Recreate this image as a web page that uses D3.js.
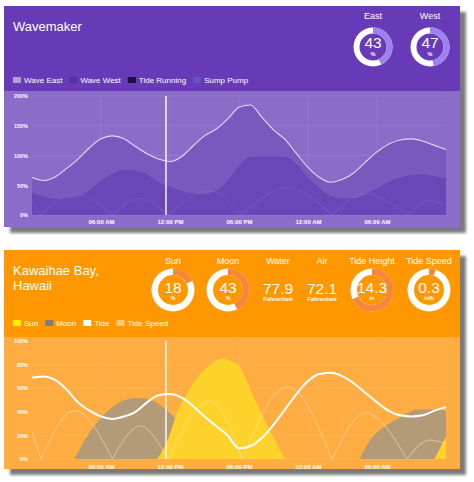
<!DOCTYPE html>
<html>
<head>
<meta charset="utf-8">
<script src="https://cdn.jsdelivr.net/npm/d3@7"></script>
<style>
  html, body { margin: 0; padding: 0; background: #fff; }
  svg { display: block; font-family: "Liberation Sans", Arial, sans-serif; }
</style>
</head>
<body>
<svg id="chart" width="474" height="482"></svg>
<script>
// --- DATA ---
const hours = [0,1,2,3,4,5,6,7,8,9,10,11,12,13,14,15,16,17,18,19,20,21,22,23,24,25,26,27,28,29,30,31,32,33,34,35,36];
const tickHours = [6, 12, 18, 24, 30];
const tickLabels = ["06:00 AM", "12:00 PM", "06:00 PM", "12:00 AM", "06:00 AM"];
const nowHour = 11.65;

// Wavemaker
const waveLegend = ["Wave East", "Wave West", "Tide Running", "Sump Pump"];
const waveEast = [63,58,64,78,94,113,128,133,128,115,103,94,90,98,116,133,144,161,181,185,164,143,127,103,80,63,55,60,71,89,106,119,126,128,124,117,110];
const waveWest = [38,31,27,28,31,42,58,69,76,74,68,55,48,40,36,35,41,57,82,98,98,98,98,86,63,45,32,28,28,35,45,56,63,67,68,65,62];
const sumpHours = [0, 0.8, 3.7, 7.0, 9.4, 11.8, 15.5, 18.3, 22.2, 26.1, 29.0, 32.6, 34.6, 36];
const sumpPump = [20, 0, 36, 0, 28, 0, 40, 0, 46, 0, 36, 0, 24, 18];
const waveTicks = [0, 50, 100, 150, 200];
const waveGaugeLabels = ["East", "West"];
const waveGaugeValues = [43, 47];

// Kawaihae Bay
const bayLegend = ["Sun", "Moon", "Tide", "Tide Speed"];
const tide = [69,70,67,59,48,41,36,34,36,40,48,54,55,52,45,36,28,20,9,11,18,29,42,55,66,72,73,70,64,56,48,41,37,36,37,41,44];
const sunHours = [10.9, 11.8, 12.6, 13.5, 14.4, 15.5, 16.4, 17.8, 19.4, 21.1, 22.0, 35.0, 36];
const sun = [0, 16, 39, 56, 69, 80, 85, 81, 50, 16, 0, 0, 19];
const moonHours = [3.7, 4.6, 5.5, 6.4, 7.3, 8.1, 9.4, 10.3, 11.1, 12.0, 13.5, 15.5, 28.5, 29.4, 30.3, 31.1, 32.3, 33.5, 34.4, 35.5, 36];
const moon = [0, 16, 29, 39, 46, 50, 52, 50, 46, 39, 22, 0, 0, 16, 25, 30, 37, 42, 42, 42, 40];
const tideSpeedHours = [0, 0.8, 3.7, 7.0, 9.4, 11.8, 15.5, 18.3, 22.2, 26.1, 29.0, 32.6, 34.6, 36];
const tideSpeed = [23, 0, 41, 0, 28, 0, 49, 0, 61, 0, 39, 0, 16, 13];
const bayTicks = [0, 20, 40, 60, 80, 100];
const bayGaugeLabels = ["Sun", "Moon", "Tide Height", "Tide Speed"];
const bayGaugeValues = ["18", "43", "14.3", "0.3"];
const bayGaugeUnits = ["%", "%", "in", "in/h"];
const bayGaugeFractions = [0.18, 0.43, 0.68, 0.05];
const tempLabels = ["Water", "Air"];
const tempValues = ["77.9", "72.1"];

// --- SETUP ---
const svg = d3.select("#chart");
const defs = svg.append("defs");
defs.append("filter").attr("id", "blur")
  .attr("x", "-5%").attr("y", "-5%").attr("width", "110%").attr("height", "110%")
  .append("feGaussianBlur").attr("stdDeviation", 1.5);

const x = d3.scaleLinear().domain([0, 36]).range([32, 446]);

function pts(xs, ys) { return xs.map((h, i) => ({ h, v: ys[i] })); }

// cut a series into runs between zero values (so the dips stay sharp)
function runs(xs, ys) {
  const out = [];
  let cur = null;
  xs.forEach((h, i) => {
    const p = { h, v: ys[i] };
    if (cur) cur.push(p);
    if (ys[i] === 0) {
      if (cur && cur.length > 1) out.push(cur);
      cur = [p];
    } else if (!cur) cur = [p];
  });
  if (cur && cur.length > 1) out.push(cur);
  return out.filter(r => r.some(p => p.v > 0));
}

function card(y, h, plotY, header, plotBg) {
  svg.append("rect").attr("x", 10).attr("y", y + 6).attr("width", 456).attr("height", h)
    .attr("fill", "#7a7a7a").attr("filter", "url(#blur)");
  svg.append("rect").attr("x", 4).attr("y", y).attr("width", 456).attr("height", h).attr("fill", header);
  svg.append("rect").attr("x", 4).attr("y", plotY).attr("width", 456).attr("height", y + h - plotY).attr("fill", plotBg);
}

function axes(y, ticks, fmt, labelY) {
  const g = svg.append("g");
  g.selectAll(".hg").data(ticks).enter().append("line")
    .attr("x1", x(0)).attr("x2", x(36))
    .attr("y1", d => y(d)).attr("y2", d => y(d))
    .attr("stroke", "#fff").attr("stroke-opacity", 0.09);
  g.selectAll(".vg").data(tickHours).enter().append("line")
    .attr("x1", d => x(d)).attr("x2", d => x(d))
    .attr("y1", y.range()[1]).attr("y2", y.range()[0])
    .attr("stroke", "#fff").attr("stroke-opacity", 0.09);

  const ya = svg.append("g").attr("transform", `translate(${x(0)},0)`)
    .call(d3.axisLeft(y).tickValues(ticks).tickFormat(fmt).tickSize(0).tickPadding(4));
  ya.select(".domain").remove();
  ya.selectAll("text").attr("fill", "#fff").attr("font-size", 5.5).attr("font-weight", "bold")
    .attr("font-family", "Liberation Sans, Arial, sans-serif");

  const xa = svg.append("g").attr("transform", `translate(0,${y(0)})`)
    .call(d3.axisBottom(x).tickValues(tickHours).tickFormat((d, i) => tickLabels[i]).tickSize(0));
  xa.select(".domain").remove();
  xa.selectAll("text").attr("y", labelY).attr("dy", 0).attr("fill", "#fff")
    .attr("font-size", 6).attr("font-weight", "bold")
    .attr("font-family", "Liberation Sans, Arial, sans-serif");
}

function legend(items, colors, yb) {
  let cx = 13;
  items.forEach((name, i) => {
    svg.append("rect").attr("x", cx).attr("y", yb - 6).attr("width", 8).attr("height", 6).attr("fill", colors[i]);
    const t = svg.append("text").attr("x", cx + 11).attr("y", yb).attr("fill", "#fff")
      .attr("font-size", 8).text(name);
    cx += 11 + t.node().getComputedTextLength() + 7;
  });
}

function gauge(cx, cy, rOut, rIn, frac, arcColor, label, labelY, value, unit, valueY, unitY, valueSize) {
  const g = svg.append("g").attr("transform", `translate(${cx},${cy})`);
  g.append("path").attr("fill", "#fff")
    .attr("d", d3.arc().innerRadius(rIn).outerRadius(rOut).startAngle(0).endAngle(2 * Math.PI)());
  g.append("path").attr("fill", arcColor)
    .attr("d", d3.arc().innerRadius(rIn).outerRadius(rOut).startAngle(0).endAngle(frac * 2 * Math.PI)());
  svg.append("text").attr("x", cx).attr("y", labelY).attr("text-anchor", "middle")
    .attr("fill", "#fff").attr("font-size", 9).text(label);
  svg.append("text").attr("x", cx).attr("y", valueY).attr("text-anchor", "middle")
    .attr("fill", "#fff").attr("font-size", valueSize).text(value);
  svg.append("text").attr("x", cx).attr("y", unitY).attr("text-anchor", "middle")
    .attr("fill", "#fff").attr("font-size", 5.5).attr("font-weight", "bold").text(unit);
}

// --- WAVEMAKER ---
card(6, 221, 91, "#673ab7", "#8b6cc9");
const yTop = d3.scaleLinear().domain([0, 200]).range([215, 96]);
axes(yTop, waveTicks, d => d + "%", 9);

const areaTop = d3.area().x(d => x(d.h)).y0(yTop(0)).y1(d => yTop(d.v)).curve(d3.curveMonotoneX);
const lineTop = d3.line().x(d => x(d.h)).y(d => yTop(d.v)).curve(d3.curveMonotoneX);

svg.append("path").datum(pts(hours, waveEast)).attr("d", areaTop).attr("fill", "#7a59bf");
svg.append("path").datum(pts(hours, waveWest)).attr("d", areaTop).attr("fill", "#6947b6");
runs(sumpHours, sumpPump).forEach(r => {
  svg.append("path").datum(r).attr("d", lineTop).attr("fill", "none")
    .attr("stroke", "#7f93f0").attr("stroke-opacity", 0.2).attr("stroke-width", 1.2);
});
svg.append("path").datum(pts(hours, waveEast)).attr("d", lineTop).attr("fill", "none")
  .attr("stroke", "#e4dafc").attr("stroke-width", 1.1);
svg.append("line").attr("x1", x(nowHour)).attr("x2", x(nowHour)).attr("y1", yTop(200)).attr("y2", yTop(0))
  .attr("stroke", "#fff").attr("stroke-width", 1.4);

svg.append("text").attr("x", 13).attr("y", 31).attr("fill", "#fff").attr("font-size", 13).text("Wavemaker");
legend(waveLegend, ["#b39ddb", "#5530a8", "#1c1236", "#6650c0"], 83);
waveGaugeLabels.forEach((l, i) => {
  gauge([373, 430][i], 47, 19.5, 13.5, waveGaugeValues[i] / 100, "#9d80f2", l, 19,
    waveGaugeValues[i], "%", 48, 56, 15.5);
});

// --- KAWAIHAE BAY ---
card(250, 219, 337, "#ff9800", "#ffac42");
const yBot = d3.scaleLinear().domain([0, 100]).range([459, 341]);
axes(yBot, bayTicks, d => d + "%", 10);

const areaBot = d3.area().x(d => x(d.h)).y0(yBot(0)).y1(d => yBot(d.v)).curve(d3.curveMonotoneX);
const lineBot = d3.line().x(d => x(d.h)).y(d => yBot(d.v)).curve(d3.curveMonotoneX);

runs(moonHours, moon).forEach(r => {
  svg.append("path").datum(r).attr("d", areaBot).attr("fill", "#b39b77");
});
runs(sunHours, sun).forEach(r => {
  svg.append("path").datum(r).attr("d", areaBot).attr("fill", "#fdd22b");
});
runs(tideSpeedHours, tideSpeed).forEach(r => {
  svg.append("path").datum(r).attr("d", lineBot).attr("fill", "none")
    .attr("stroke", "#ffe6c2").attr("stroke-opacity", 0.45).attr("stroke-width", 1.1);
});
svg.append("path").datum(pts(hours, tide)).attr("d", lineBot).attr("fill", "none")
  .attr("stroke", "#fff").attr("stroke-width", 2);
svg.append("line").attr("x1", x(nowHour)).attr("x2", x(nowHour)).attr("y1", yBot(100)).attr("y2", yBot(0))
  .attr("stroke", "#fff").attr("stroke-width", 1.4);

svg.append("text").attr("x", 13).attr("y", 275).attr("fill", "#fff").attr("font-size", 13).text("Kawaihae Bay,");
svg.append("text").attr("x", 13).attr("y", 290).attr("fill", "#fff").attr("font-size", 13).text("Hawaii");
legend(bayLegend, ["#ffee00", "#7d7d7d", "#ffffff", "#ffc77a"], 326);

const bayX = [173, 228, 372, 429];
bayGaugeLabels.forEach((l, i) => {
  gauge(bayX[i], 290, 21.5, 15, bayGaugeFractions[i], "#f4873a", l, 264,
    bayGaugeValues[i], bayGaugeUnits[i], 293, 299.5, 15.5);
});
const tempX = [278, 322];
tempLabels.forEach((l, i) => {
  svg.append("text").attr("x", tempX[i]).attr("y", 264).attr("text-anchor", "middle")
    .attr("fill", "#fff").attr("font-size", 9).text(l);
  svg.append("text").attr("x", tempX[i]).attr("y", 294).attr("text-anchor", "middle")
    .attr("fill", "#fff").attr("font-size", 15.5).text(tempValues[i]);
  svg.append("text").attr("x", tempX[i]).attr("y", 301).attr("text-anchor", "middle")
    .attr("fill", "#fff").attr("font-size", 5.8).attr("font-weight", "bold").text("Fahrenheit");
});
</script>
</body>
</html>
